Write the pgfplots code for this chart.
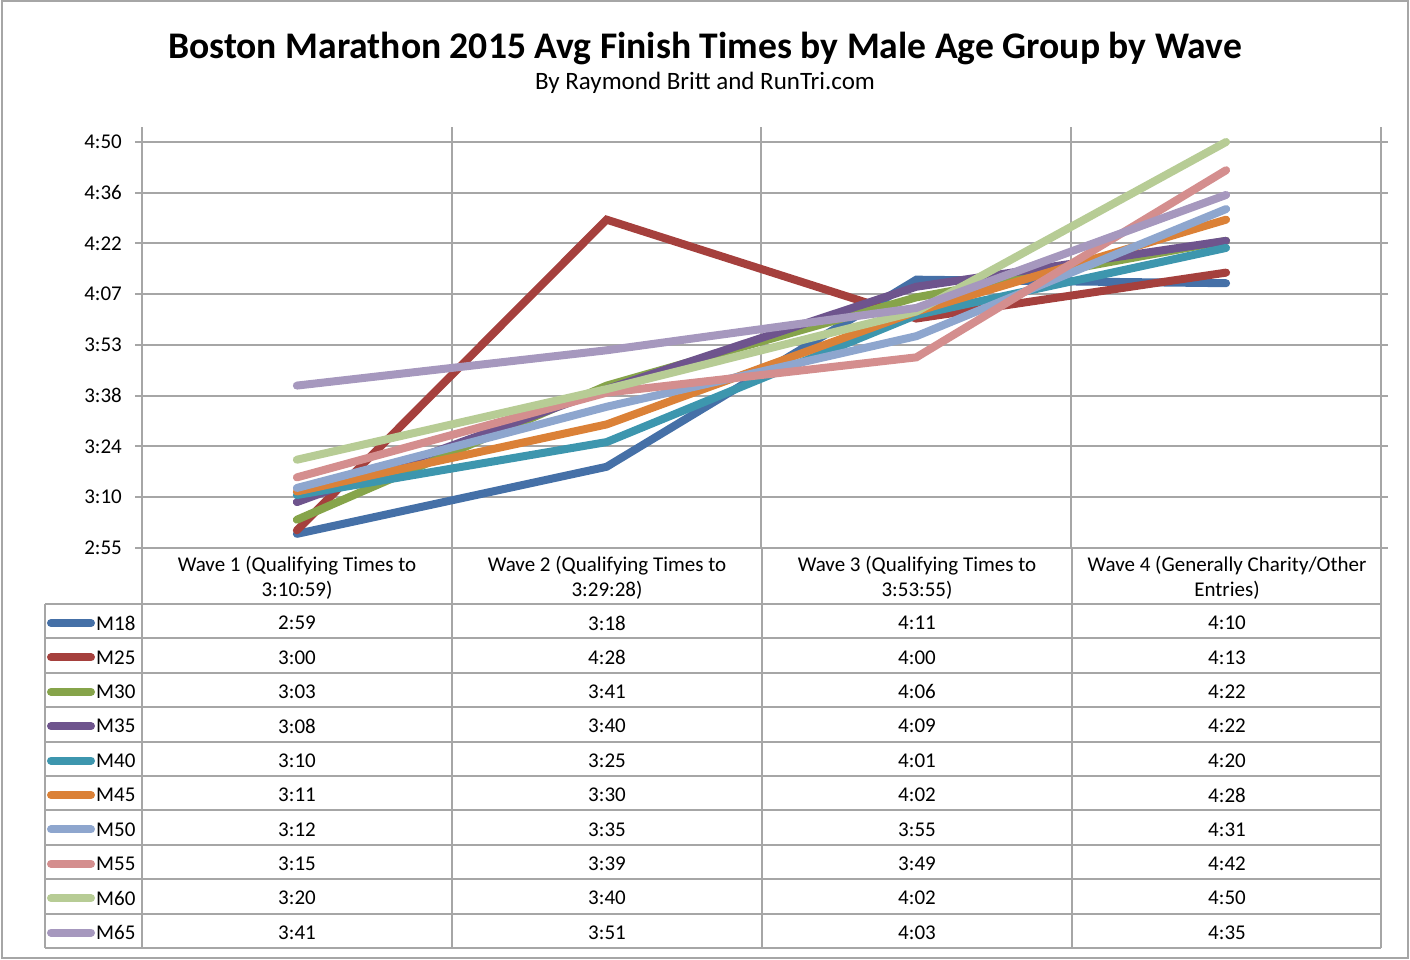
\documentclass[border=0pt]{standalone}
\usepackage{pgfplots}
\pgfplotsset{compat=1.18}
\usepackage{fontspec}
\setmainfont{Carlito}

\definecolor{gridgray}{RGB}{166,166,166}
\definecolor{c18}{RGB}{69,112,167}
\definecolor{c25}{RGB}{165,64,61}
\definecolor{c30}{RGB}{134,164,74}
\definecolor{c35}{RGB}{110,84,141}
\definecolor{c40}{RGB}{61,150,174}
\definecolor{c45}{RGB}{219,129,55}
\definecolor{c50}{RGB}{142,166,206}
\definecolor{c55}{RGB}{212,142,142}
\definecolor{c60}{RGB}{183,204,149}
\definecolor{c65}{RGB}{166,152,190}

\begin{document}
\fontsize{21}{25}\selectfont
\begin{tikzpicture}
\path[use as bounding box] (0,0) rectangle (1410pt,960pt);
\begin{axis}[
    at={(142pt,412pt)}, anchor=south west,
    scale only axis, width=1239pt, height=421pt,
    xmin=-0.5, xmax=3.5, ymin=175, ymax=294.25,
    xtick={-0.5,0.5,1.5,2.5,3.5}, xticklabels={},
    ytick={175,189.375,203.75,218.125,232.5,246.875,261.25,275.625,290},
    yticklabels={2:55,3:10,3:24,3:38,3:53,4:07,4:22,4:36,4:50},
    grid=major,
    major grid style={draw=gridgray, line width=2pt},
    axis line style={draw=none},
    xtick style={draw=none},
    ytick style={draw=gridgray, line width=2pt},
    ytick align=outside, major tick length=7pt,
    yticklabel style={font=\fontsize{21}{25}\selectfont, xshift=-6pt},
    clip=false,
    every axis plot/.append style={line width=8pt, line cap=round, mark=none},
]
% minutes; columns are waves 1-4
\addplot[c18] coordinates {(0,179) (1,198) (2,251) (3,250)};
\addplot[c25] coordinates {(0,180) (1,268) (2,240) (3,253)};
\addplot[c30] coordinates {(0,183) (1,221) (2,246) (3,262)};
\addplot[c35] coordinates {(0,188) (1,220) (2,249) (3,262)};
\addplot[c40] coordinates {(0,190) (1,205) (2,241) (3,260)};
\addplot[c45] coordinates {(0,191) (1,210) (2,242) (3,268)};
\addplot[c50] coordinates {(0,192) (1,215) (2,235) (3,271)};
\addplot[c55] coordinates {(0,195) (1,219) (2,229) (3,282)};
\addplot[c60] coordinates {(0,200) (1,220) (2,242) (3,290)};
\addplot[c65] coordinates {(0,221) (1,231) (2,243) (3,275)};
\end{axis}

\begin{scope}[x=1pt, y=-1pt, yshift=960pt]
% title
\node at (705,49) {\fontsize{37.6}{44}\selectfont\bfseries Boston Marathon 2015 Avg Finish Times by Male Age Group by Wave};
\node at (705,83) {\fontsize{25}{30}\selectfont By Raymond Britt and RunTri.com};

% data table rules
\foreach \xx in {142,452,762,1072,1381}
  \draw[gridgray, line width=2pt] (\xx,548) -- (\xx,948);
\draw[gridgray, line width=2pt] (45,604) -- (45,948);
\foreach \k in {0,...,10}
  \draw[gridgray, line width=2pt] (45,604+34.4*\k) -- (1381,604+34.4*\k);

% header
\node[align=center] at (297,578) {Wave 1 (Qualifying Times to\\3:10:59)};
\node[align=center] at (607,578) {Wave 2 (Qualifying Times to\\3:29:28)};
\node[align=center] at (917,578) {Wave 3 (Qualifying Times to\\3:53:55)};
\node[align=center] at (1227,578) {Wave 4 (Generally Charity/Other\\Entries)};

% rows
\foreach \nm/\col/\ra/\rb/\rc/\rd [count=\i from 0] in {
  M18/c18/2:59/3:18/4:11/4:10,
  M25/c25/3:00/4:28/4:00/4:13,
  M30/c30/3:03/3:41/4:06/4:22,
  M35/c35/3:08/3:40/4:09/4:22,
  M40/c40/3:10/3:25/4:01/4:20,
  M45/c45/3:11/3:30/4:02/4:28,
  M50/c50/3:12/3:35/3:55/4:31,
  M55/c55/3:15/3:39/3:49/4:42,
  M60/c60/3:20/3:40/4:02/4:50,
  M65/c65/3:41/3:51/4:03/4:35}{
  \pgfmathsetmacro\yy{623+34.4*\i}
  \draw[\col, line width=8pt, line cap=round] (51,\yy) -- (91,\yy);
  \node[anchor=west, inner sep=0pt] at (96,\yy) {\nm};
  \node at (297,\yy) {\ra};
  \node at (607,\yy) {\rb};
  \node at (917,\yy) {\rc};
  \node at (1227,\yy) {\rd};
}

% outer frame
\draw[gridgray, line width=2pt] (2,1) rectangle (1408,958);
\end{scope}
\end{tikzpicture}
\end{document}
